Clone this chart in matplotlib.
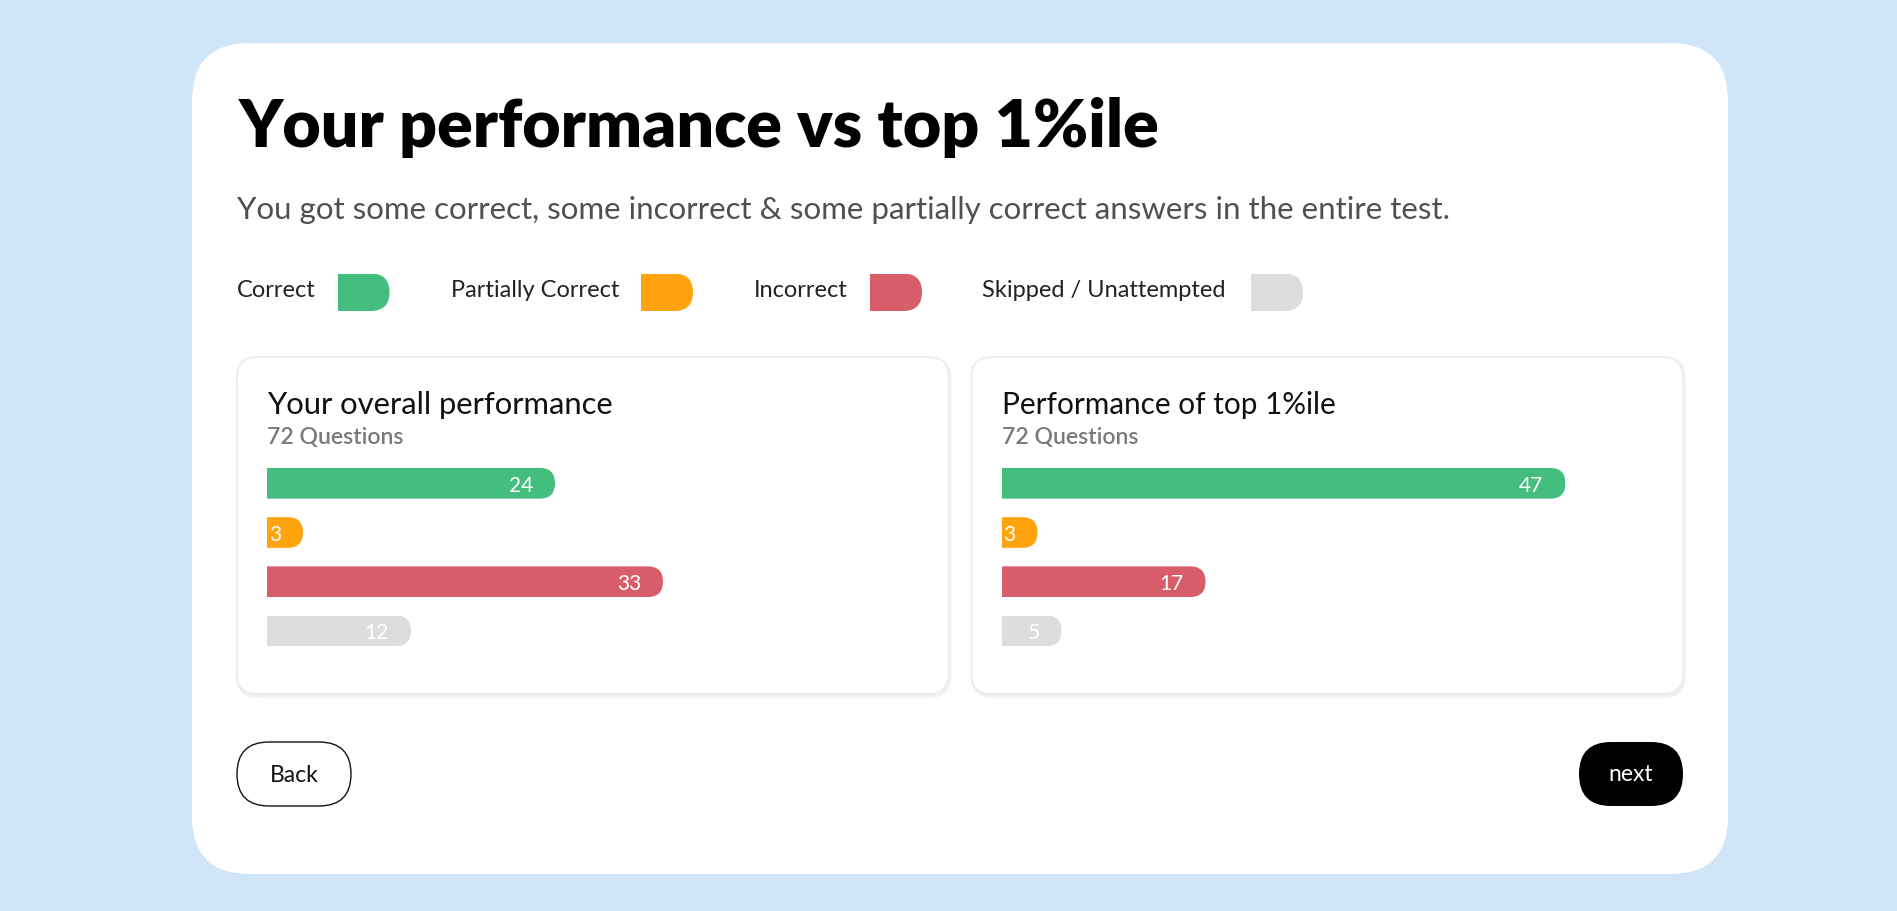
import matplotlib
matplotlib.use("Agg")
import numpy as np
import matplotlib.pyplot as plt
from matplotlib.patches import FancyBboxPatch, Rectangle

# ── data ──────────────────────────────────────────────────────────────────
categories = ["Correct", "Partially Correct", "Incorrect", "Skipped / Unattempted"]
cat_colors = ["#44be7e", "#ffa30f", "#d85d6a", "#dddddd"]
your_counts = [24, 3, 33, 12]
top_counts = [47, 3, 17, 5]
n_questions = 72
panel_titles = ["Your overall performance", "Performance of top 1%ile"]

title = "Your performance vs top 1%ile"
subtitle = ("You got some correct, some incorrect & some partially correct "
            "answers in the entire test.")

plt.rcParams["font.family"] = ["Lato", "DejaVu Sans"]

W, H = 1897, 912
fig = plt.figure(figsize=(W / 100, H / 100), dpi=100)
fig.patch.set_facecolor("#d0e5f8")
renderer = fig.canvas.get_renderer()

# pixel-space canvas for the page furniture
page = fig.add_axes([0, 0, 1, 1])
page.set_xlim(0, W)
page.set_ylim(H, 0)
page.axis("off")


def fit_text(ax, x, y, s, target_w, size, **kw):
    # scale font so the string spans roughly the same width as in the mock-up
    t = ax.text(x, y, s, fontsize=size, **kw)
    for _ in range(3):
        w = t.get_window_extent(renderer).width
        t.set_fontsize(t.get_fontsize() * target_w / w)
    return t


def pill_clip(ax, x, y, w, h, rx, aspect=1.0):
    # rounded only on the right side: left corners sit outside the clipped shape
    return FancyBboxPatch((x - 2 * rx, y), w + 2 * rx, h,
                          boxstyle=f"round,pad=0,rounding_size={rx}",
                          mutation_aspect=aspect, transform=ax.transData)


# outer white card
page.add_patch(FancyBboxPatch((192, 44), 1536, 831, boxstyle="round,pad=0,rounding_size=58",
                              fc="white", ec="none"))

fit_text(page, 239, 147, title, 920, 44, weight="heavy", color="black", va="baseline")
fit_text(page, 237, 219, subtitle, 1215, 18, color="#505050", va="baseline")

# legend row
label_x = [237, 451, 754, 982]
swatch_x = [337.5, 641, 870, 1251]
for lab, col, lx, sx in zip(categories, cat_colors, label_x, swatch_x):
    page.text(lx, 297.5, lab, fontsize=17, color="#222222", va="baseline")
    sw = page.add_patch(Rectangle((sx, 274.5), 52, 37.5, fc=col, ec="none"))
    sw.set_clip_path(pill_clip(page, sx, 274.5, 52, 37.5, 37.5 / 2))

# two inner cards
card_left = [237, 971.5]
for cx in card_left:
    page.add_patch(FancyBboxPatch((cx + 1, 360), 711.5, 337, boxstyle="round,pad=0,rounding_size=20",
                                  fc="none", ec="#f2f2f2", lw=3))
    page.add_patch(FancyBboxPatch((cx, 358), 711.5, 337, boxstyle="round,pad=0,rounding_size=20",
                                  fc="white", ec="#ebebeb", lw=1.2))

title_w = [347, 334]
px_per_q = 12.0
row_gap = 49.2
bar_h = 30.7 / row_gap
r_x = (30.7 / 2) / px_per_q
for cx, ttl, tw, counts in zip(card_left, panel_titles, title_w, [your_counts, top_counts]):
    x0 = cx + 30
    fit_text(page, x0, 414, ttl, tw, 17, color="#111111", va="baseline")
    fit_text(page, x0, 444, f"{n_questions} Questions", 136, 13.5, color="#7a7a7a",
             weight="semibold", va="baseline")

    # bar axes: 12 px per question, 49.2 px per row
    top_px, ax_w = 484.3 - row_gap / 2, 640
    ax = fig.add_axes([x0 / W, 1 - (top_px + 4 * row_gap) / H, ax_w / W, 4 * row_gap / H])
    ax.set_xlim(0, ax_w / px_per_q)
    ax.set_ylim(3.5, -0.5)
    ax.axis("off")
    rows = np.arange(len(counts))
    vals = np.array(counts, dtype=float)
    bars = ax.barh(rows, vals, height=bar_h, color=cat_colors, linewidth=0)
    for bar, r, v in zip(bars, rows, vals):
        bar.set_clip_path(pill_clip(ax, 0, r - bar_h / 2, v, bar_h, r_x, px_per_q / row_gap))
        ax.annotate(f"{int(v)}", xy=(v, r), xytext=(-22, -7.5), textcoords="offset pixels",
                    ha="right", va="baseline", color="white", fontsize=15)

# buttons
page.add_patch(FancyBboxPatch((237, 743), 114, 64, boxstyle="round,pad=0,rounding_size=32",
                              fc="white", ec="#111111", lw=1))
page.text(294, 782.5, "Back", ha="center", va="baseline", fontsize=16.5, color="#111111")
page.add_patch(FancyBboxPatch((1579, 743), 104, 64, boxstyle="round,pad=0,rounding_size=32",
                              fc="black", ec="none"))
page.text(1631, 781, "next", ha="center", va="baseline", fontsize=16.5, color="white")

fig.savefig("out.png", dpi=100, facecolor=fig.get_facecolor())
